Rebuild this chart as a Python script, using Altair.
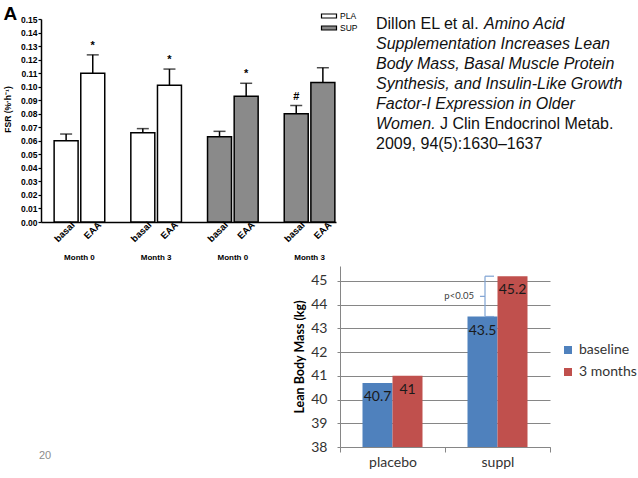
import altair as alt
import pandas as pd

# ---------------- Panel A: mixed muscle protein FSR ----------------
fsr_groups = ["PLA|Month 0", "PLA|Month 3", "SUP|Month 0", "SUP|Month 3"]
fsr_treatment = ["PLA", "PLA", "SUP", "SUP"]
fsr_conditions = ["basal", "EAA"]
# one value per (group, condition), basal first
fsr_mean = [0.060, 0.110, 0.066, 0.101, 0.063, 0.093, 0.080, 0.103]
fsr_sem = [0.005, 0.0135, 0.003, 0.012, 0.004, 0.0095, 0.006, 0.011]
fsr_flags = ["", "*", "", "*", "", "*", "#", ""]

# ---------------- Panel B: lean body mass ----------------
lbm_groups = ["placebo", "suppl"]
lbm_periods = ["baseline", "3 months"]
lbm_baseline = [40.7, 43.5]
lbm_3months = [41.0, 45.2]

# ---------------- Reference text ----------------
ref_regular_start = [(0, "Dillon EL et al."), (6, "2009, 94(5):1630\u20131637")]
ref_italic_start = [
    (1, "Supplementation Increases Lean"),
    (2, "Body Mass, Basal Muscle Protein"),
    (3, "Synthesis, and Insulin-Like Growth"),
    (4, "Factor-I Expression in Older"),
    (5, "Women."),
]
ref_italic_tail = [(0, "Amino Acid")]
ref_regular_tail = [(5, "J Clin Endocrinol Metab.")]
slide_number = "20"

ARIAL = "Liberation Sans"
CALIBRI = "Lato"

# ---------- build panel A ----------
rows = []
for gi, g in enumerate(fsr_groups):
    for ci, c in enumerate(fsr_conditions):
        k = gi * 2 + ci
        rows.append({
            "group": g,
            "condition": c,
            "treatment": fsr_treatment[gi],
            "mean": fsr_mean[k],
            "upper": fsr_mean[k] + fsr_sem[k],
            "flag": fsr_flags[k],
        })
fsr_df = pd.DataFrame(rows)

A_W, A_H = 295, 203
A_PAD_IN, A_PAD_OUT = 0.34, 0.093
a_step = A_W / (len(fsr_groups) - A_PAD_IN + 2 * A_PAD_OUT)
a_band = a_step * (1 - A_PAD_IN)

xA = alt.X(
    "group:N",
    sort=fsr_groups,
    scale=alt.Scale(domain=fsr_groups, paddingInner=A_PAD_IN, paddingOuter=A_PAD_OUT, align=0.92),
    axis=alt.Axis(
        labelExpr="split(datum.label, '|')[1]",
        labelAngle=0,
        labelFont=ARIAL,
        labelFontWeight="bold",
        labelFontSize=8,
        labelColor="black",
        labelPadding=31,
        ticks=False,
        domainColor="black",
        domainWidth=1.5,
    ),
    title=None,
)
xoffA = alt.XOffset(
    "condition:N",
    sort=fsr_conditions,
    scale=alt.Scale(domain=fsr_conditions, range=[0, a_band], paddingInner=0.1, paddingOuter=0),
)
yA = alt.Y(
    "mean:Q",
    scale=alt.Scale(domain=[0, 0.15], nice=False, zero=True),
    axis=alt.Axis(
        tickCount=15,
        format=".2f",
        labelFont=ARIAL,
        labelFontWeight="bold",
        labelFontSize=8.5,
        labelColor="black",
        labelPadding=1,
        labelOverlap=False,
        tickSize=3,
        tickColor="black",
        tickWidth=1.2,
        domainColor="black",
        domainWidth=1.5,
        grid=False,
        titleFont=ARIAL,
        titleFontWeight="bold",
        titleFontSize=8.5,
        titleColor="black",
        titlePadding=8,
        titleY=90,
    ),
    title="FSR (%\u00b7h\u207b\u00b9)",
)

baseA = alt.Chart(fsr_df).encode(x=xA, xOffset=xoffA)

barsA = baseA.mark_bar(stroke="black", strokeWidth=1.5).encode(
    y=yA,
    fill=alt.Fill(
        "treatment:N",
        scale=alt.Scale(domain=["PLA", "SUP"], range=["white", "#8a8a8a"]),
        legend=alt.Legend(
            title=None,
            orient="none",
            legendX=282,
            legendY=-9,
            symbolType="M-1.5,-0.4H1.5V0.4H-1.5Z",
            symbolSize=100,
            symbolStrokeColor="black",
            symbolStrokeWidth=1.2,
            labelFont=ARIAL,
            labelFontSize=8.5,
            labelColor="black",
            labelOffset=5,
            rowPadding=1,
            padding=0,
        ),
    ),
)
errA = baseA.mark_rule(color="black", strokeWidth=1.5).encode(y="mean:Q", y2="upper:Q")
capA = baseA.mark_tick(color="black", thickness=1.5, size=12).encode(y="upper:Q")
flagA = baseA.mark_text(
    font=ARIAL, fontWeight="bold", fontSize=11, baseline="alphabetic", dy=-6, color="black"
).encode(y="upper:Q", text="flag:N")
condA = baseA.mark_text(
    font=ARIAL, fontWeight="bold", fontSize=9.5, angle=315, align="right",
    baseline="middle", dx=4, dy=6, color="black"
).encode(y=alt.datum(0), text="condition:N")

chart_a = alt.layer(barsA, errA, capA, flagA, condA).properties(
    width=A_W,
    height=A_H,
    title=alt.TitleParams(
        "A", anchor="start", frame="bounds", font=ARIAL, fontWeight="bold",
        fontSize=19, color="black", baseline="top", offset=0, dy=14,
    ),
)

# ---------- citation text ----------
def text_layer(items, style, dx):
    df = pd.DataFrame(items, columns=["line", "txt"])
    return alt.Chart(df).mark_text(
        font=ARIAL, fontSize=16, fontStyle=style, align="left",
        baseline="alphabetic", color="#111111", dx=dx,
    ).encode(
        x=alt.value(0),
        y=alt.Y("line:O", scale=alt.Scale(domain=list(range(7)), paddingInner=0, paddingOuter=0), axis=None),
        text="txt:N",
    )

citation = alt.layer(
    text_layer(ref_regular_start, "normal", 0),
    text_layer(ref_italic_start, "italic", 0),
    text_layer(ref_italic_tail, "italic", 108),
    text_layer(ref_regular_tail, "normal", 64),
).properties(width=262, height=140)

# ---------- build panel B ----------
lbm_rows = []
for gi, g in enumerate(lbm_groups):
    for p, vals in zip(lbm_periods, [lbm_baseline, lbm_3months]):
        lbm_rows.append({"group": g, "period": p, "value": vals[gi], "label": f"{vals[gi]:g}"})
lbm_df = pd.DataFrame(lbm_rows)

B_W, B_H = 210, 181
b_band = B_W / len(lbm_groups)
b_bar = 30

xB = alt.X(
    "group:N",
    sort=lbm_groups,
    scale=alt.Scale(domain=lbm_groups, paddingInner=0, paddingOuter=0),
    axis=alt.Axis(
        tickBand="extent",
        labelAngle=0,
        labelFont=CALIBRI,
        labelFontSize=14,
        labelColor="#333333",
        labelPadding=3,
        tickSize=5,
        tickColor="#868686",
        domainColor="#868686",
        grid=False,
    ),
    title=None,
)
xoffB = alt.XOffset(
    "period:N",
    sort=lbm_periods,
    scale=alt.Scale(
        domain=lbm_periods,
        range=[b_band / 2 - b_bar, b_band / 2 + b_bar],
        paddingInner=0,
        paddingOuter=0,
    ),
)
yB = alt.Y(
    "value:Q",
    scale=alt.Scale(domain=[38, 45.63], nice=False, zero=False),
    axis=alt.Axis(
        tickCount=8,
        labelFont=CALIBRI,
        labelFontSize=14,
        labelColor="#333333",
        labelPadding=10,
        labelOverlap=False,
        tickSize=3,
        tickColor="#868686",
        domainColor="#868686",
        grid=True,
        gridColor="#868686",
        gridWidth=1,
        titleFont=CALIBRI,
        titleFontSize=12.5,
        titleFontWeight="bold",
        titleColor="black",
        titlePadding=4,
    ),
    title="Lean Body Mass (kg)",
)

baseB = alt.Chart(lbm_df).encode(x=xB, xOffset=xoffB)
barsB = baseB.mark_bar(clip=True).encode(
    y=yB,
    color=alt.Color(
        "period:N",
        scale=alt.Scale(domain=lbm_periods, range=["#4F81BD", "#C0504D"]),
        legend=alt.Legend(
            title=None,
            orient="none",
            legendX=221,
            legendY=77,
            symbolType="square",
            symbolSize=64,
            symbolStrokeWidth=0,
            labelFont=CALIBRI,
            labelFontSize=14,
            labelColor="#333333",
            labelOffset=4,
            rowPadding=8,
            padding=0,
        ),
    ),
)
valB = baseB.mark_text(
    font=CALIBRI, fontSize=14, baseline="middle", dy=14, color="#1a1a1a"
).encode(y="value:Q", text="label:N")

# significance brace between the supplement bars
brace_df = pd.DataFrame({
    "group": [lbm_groups[1]],
    "low": [lbm_baseline[1]],
    "high": [lbm_3months[1]],
    "mid": [(lbm_baseline[1] + lbm_3months[1]) / 2],
    "note": ["p<0.05"],
})
BRACE = "#7FA3D3"
brace_base = alt.Chart(brace_df)
brace_v = brace_base.mark_rule(color=BRACE, strokeWidth=1.2).encode(
    x=alt.X("group:N", bandPosition=0.381), y="low:Q", y2="high:Q"
)
brace_top = brace_base.mark_rule(color=BRACE, strokeWidth=1.2).encode(
    x=alt.X("group:N", bandPosition=0.381), x2=alt.X2("group:N", bandPosition=0.467), y="high:Q"
)
brace_bot = brace_base.mark_rule(color=BRACE, strokeWidth=1.2).encode(
    x=alt.X("group:N", bandPosition=0.381), x2=alt.X2("group:N", bandPosition=0.467), y="low:Q"
)
brace_mid = brace_base.mark_rule(color=BRACE, strokeWidth=1.2).encode(
    x=alt.X("group:N", bandPosition=0.333), x2=alt.X2("group:N", bandPosition=0.381), y="mid:Q"
)
brace_txt = brace_base.mark_text(
    font=CALIBRI, fontSize=9.5, align="right", baseline="middle", color="#404040"
).encode(x=alt.X("group:N", bandPosition=0.276), y="mid:Q", text="note:N")

chart_b = alt.layer(barsB, valB, brace_v, brace_top, brace_bot, brace_mid, brace_txt).properties(
    width=B_W, height=B_H
)

slide = alt.Chart(pd.DataFrame({"n": [slide_number]})).mark_text(
    font=ARIAL, fontSize=11, color="#8c8c8c", dy=99
).encode(text="n:N").properties(width=8, height=B_H)

# each panel keeps its own offset scale and legend
indep = dict(xOffset="independent", color="independent", fill="independent")
row1 = alt.hconcat(chart_a, citation, spacing=18).resolve_scale(**indep)
row2 = alt.hconcat(slide, chart_b, spacing=241).resolve_scale(**indep)

chart = alt.vconcat(row1, row2, spacing=5).resolve_scale(**indep).properties(
    padding={"left": 3, "top": 5, "right": 0, "bottom": 0},
    background="white",
).configure_view(stroke=None)

chart.save("out.html", embed_options={"renderer": "svg", "actions": False})
